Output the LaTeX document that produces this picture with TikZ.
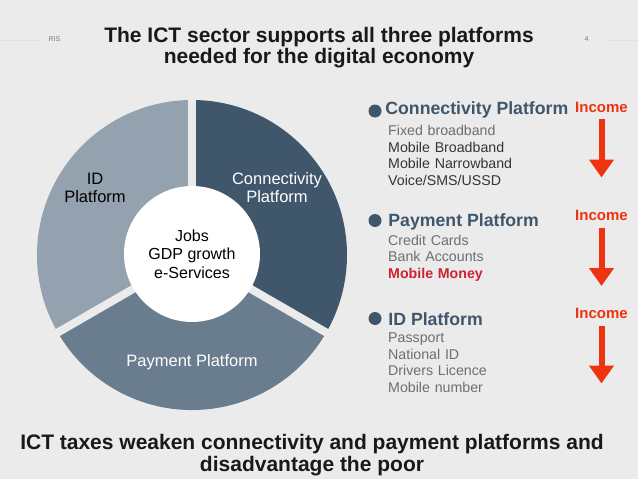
\documentclass[tikz,border=0pt]{standalone}
\usepackage{fontspec}
\setmainfont{Liberation Sans}
\usetikzlibrary {arrows.meta,
                 positioning}
\definecolor{pagebg}{HTML}{EBEBEB}
\definecolor{darkslate}{HTML}{3F566B}
\definecolor{midslate}{HTML}{6A7D8E}
\definecolor{lightslate}{HTML}{93A2AE}
\definecolor{incomered}{HTML}{EE3311}
\definecolor{moneyred}{HTML}{CC2233}
\definecolor{itemgray}{HTML}{6B6F73}
\definecolor{itemdark}{HTML}{333538}
\tikzset{
        title/.style={align=center, inner sep=0pt, text=black!90,
                      font=\fontsize{21}{21}\selectfont\bfseries},
        corner/.style={inner sep=0pt, text=midslate, font=\fontsize{7}{8}\selectfont},
        rule/.style={line width=0.5pt, color=black!12},
        wedgegap/.style={pagebg, line width=8pt},
        hub/.style={circle, fill=white, minimum size=136pt, inner sep=0pt, align=center,
                    font=\fontsize{16}{18.3}\selectfont},
        pielabel/.style={align=center, inner sep=0pt, font=\fontsize{16.5}{18}\selectfont},
        bullet/.style={circle, fill=darkslate, minimum size=13pt, inner sep=0pt},
        head/.style={inner sep=0pt, text=darkslate, font=\fontsize{17.7}{20}\selectfont\bfseries},
        item/.style={text width=130pt, align=left, inner sep=0pt, minimum height=16.1pt,
                     text height=10pt, text depth=3pt, text=itemgray,
                     font=\fontsize{14.2}{16}\selectfont},
        income/.style={inner sep=0pt, minimum height=24pt, text=incomered,
                       font=\fontsize{15}{16}\selectfont\bfseries},
        incarrow/.style={-{Triangle[length=18pt, width=24pt]}, line width=6pt, incomered},
 }
\begin{document}
\begin{tikzpicture}[x=1pt, y=1pt]
    \useasboundingbox[fill=pagebg] (0,0) rectangle (638,-479);

    % header
    \coordinate (ruleL0) at (0,-40);
    \coordinate (ruleL1) at (40,-40);
    \coordinate (ruleR0) at (608,-40);
    \coordinate (ruleR1) at (638,-40);
    \draw[rule] (ruleL0) -- (ruleL1);
    \draw[rule] (ruleR0) -- (ruleR1);
    \node[corner] (ris) at (54.5,-39.5) {RIS};
    \node[corner] (pageno) at (586.5,-39.5) {4};
    \node[title] (toptitle) at (319,-48) {The ICT sector supports all three platforms\\needed for the digital economy};

    % pie
    \coordinate (pie) at (192,-255);
    \foreach \from/\to/\col in {90/-30/darkslate, -30/-150/midslate, -150/-270/lightslate}
        \fill[\col] (pie) -- ++(\from:155pt) arc[start angle=\from, end angle=\to, radius=155pt] -- cycle;
    \foreach \ang in {90, -30, -150}
        \draw[wedgegap] (pie) -- ++(\ang:160pt);
    \node[hub] (jobs) at (192,-254) {Jobs\\GDP growth\\e-Services};
    \node[pielabel] (idlabel) at (95,-188) {ID\\Platform};
    \node[pielabel, text=white] (conlabel) at (277,-188) {Connectivity\\Platform};
    \node[pielabel, text=white] (paylabel) at (192,-362) {Payment Platform};

    % connectivity
    \node[bullet] (b1) at (375,-111) {};
    \node[head, right=3.5pt of b1, yshift=1.5pt] (h1) {Connectivity Platform};
    \node[item, anchor=west] (c1) at (388,-132) {Fixed broadband};
    \node[item, text=itemdark, below=0cm of c1] (c2) {Mobile Broadband};
    \node[item, text=itemdark, below=0cm of c2] (c3) {Mobile Narrowband};
    \node[item, text=itemdark, below=0cm of c3] (c4) {Voice/SMS/USSD};

    % payment
    \node[bullet] (b2) at (375,-220.5) {};
    \node[head, right=6.5pt of b2, yshift=-1pt] (h2) {Payment Platform};
    \node[item, anchor=west] (p1) at (388,-241.5) {Credit Cards};
    \node[item, below=0cm of p1] (p2) {Bank Accounts};
    \node[item, text=moneyred, below=0cm of p2] (p3) {\bfseries Mobile Money};

    % id
    \node[bullet] (b3) at (375,-318.5) {};
    \node[head, right=6.5pt of b3, yshift=-0.5pt] (h3) {ID Platform};
    \node[item, anchor=west] (d1) at (388,-339) {Passport};
    \node[item, below=0cm of d1] (d2) {National ID};
    \node[item, below=0cm of d2] (d3) {Drivers Licence};
    \node[item, below=0cm of d3] (d4) {Mobile number};

    % income arrows
    \node[income] (inc1) at (601.5,-107) {Income};
    \node[income] (inc2) at (601.5,-215.5) {Income};
    \node[income] (inc3) at (601.5,-313.5) {Income};
    \coordinate (tip1) at (601.5,-177.5);
    \coordinate (tip2) at (601.5,-286);
    \coordinate (tip3) at (601.5,-383.5);
    \draw[incarrow] (inc1) -- (tip1);
    \draw[incarrow] (inc2) -- (tip2);
    \draw[incarrow] (inc3) -- (tip3);

    % bottom line
    \node[title, font=\fontsize{21}{22}\selectfont\bfseries] (bottomline) at (312,-455) {ICT taxes weaken connectivity and payment platforms and\\disadvantage the poor};
\end{tikzpicture}
\end{document}
